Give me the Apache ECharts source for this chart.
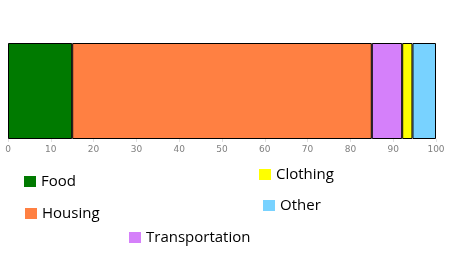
<!DOCTYPE html>
<html><head><meta charset="utf-8">
<script src="https://cdn.jsdelivr.net/npm/echarts@6/dist/echarts.min.js"></script>
<style>html,body{margin:0;padding:0;background:#fff}#c{width:450px;height:264px}</style>
</head><body><div id="c"></div>
<script>
const categories = ['Spending'];
const seriesNames = ['Food', 'Housing', 'Transportation', 'Clothing', 'Other'];
const seriesValues = [15, 70, 7.1, 2.4, 5.5];
const colors = ['#007a00', '#ff8042', '#d580fa', '#ffff00', '#78d2ff'];
const xTicks = [0, 10, 20, 30, 40, 50, 60, 70, 80, 90, 100];

const legendPos = [
  {left: 24, top: 174},
  {left: 25, top: 206},
  {left: 129, top: 230},
  {left: 259, top: 167},
  {left: 263, top: 198}
];

const chart = echarts.init(document.getElementById('c'), null, {renderer: 'canvas'});
chart.setOption({
  animation: false,
  grid: {left: 8, right: 14, top: 43, height: 96, containLabel: false},
  xAxis: {
    type: 'value', min: xTicks[0], max: xTicks[xTicks.length - 1], interval: 10,
    splitLine: {show: false},
    axisLine: {show: false},
    axisTick: {show: true, length: 3, lineStyle: {color: '#e0e0e0'}},
    axisLabel: {color: '#808080', fontSize: 9, margin: 6, fontFamily: 'DejaVu Sans'}
  },
  yAxis: {type: 'category', data: categories, show: false},
  legend: seriesNames.map((n, i) => ({
    data: [n], left: legendPos[i].left, top: legendPos[i].top,
    icon: 'rect', itemWidth: 12, itemHeight: 11, itemGap: 5, padding: 0,
    itemStyle: {borderWidth: 0},
    textStyle: {fontSize: 15, color: '#000', fontFamily: 'Open Sans', padding: [0, 0, 0, 0]},
    selectedMode: false
  })),
  series: seriesNames.map((n, i) => ({
    name: n, type: 'bar', stack: 'total', barWidth: 96,
    data: [seriesValues[i]],
    itemStyle: {color: colors[i], borderColor: '#000', borderWidth: 1}
  }))
});
</script></body></html>
